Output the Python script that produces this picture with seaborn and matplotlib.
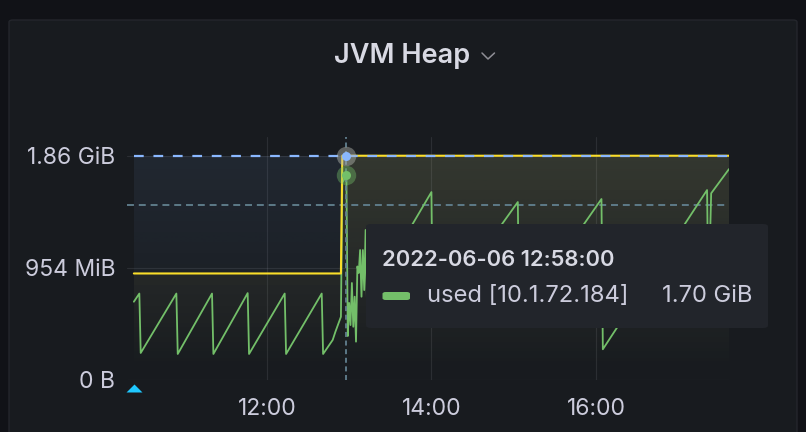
import numpy as np
import pandas as pd
import seaborn as sns
import matplotlib.pyplot as plt
import matplotlib.colors as mcolors
from matplotlib.patches import FancyBboxPatch
from matplotlib.lines import Line2D

# heap values in MB (1e6 bytes), time of day as HH:MM
used_times = ["10:23", "10:27", "10:28", "10:54", "10:55", "11:20", "11:21", "11:46", "11:47",
              "12:13", "12:14", "12:40", "12:41", "12:48", "12:50", "12:54", "12:55", "12:58",
              "12:59", "13:00", "13:01", "13:02", "13:03", "13:04", "13:05", "13:06", "13:07",
              "13:08", "13:09", "13:10", "13:11", "13:12", "13:13", "14:00", "14:01", "15:03",
              "15:04", "16:04", "16:05", "17:21", "17:22", "17:24", "17:37"]
used_mb = [698, 771, 241, 771, 232, 771, 232, 775, 232,
           771, 232, 771, 232, 357, 431, 564, 1760, 1825,
           392, 687, 490, 865, 475, 743, 342, 1013, 954,
           1159, 743, 1159, 802, 1338, 700, 1676, 530, 1587,
           562, 1614, 274, 1694, 700, 1665, 1881]

committed_times = ["10:23", "12:54", "12:55", "17:37"]
committed_mb = [950, 950, 2000, 2000]

max_times = ["10:23", "17:37"]
max_mb = [2000, 2000]

threshold_mb = 1565
hover_time = "12:58"
hover_title = "2022-06-06 12:58:00"
hover_series = "used [10.1.72.184]"
hover_value = "1.70 GiB"
annotation_time = "10:23"

x_ticks = ["12:00", "14:00", "16:00"]
x_range = ["10:18", "17:37"]
y_ticks_mb = [0, 1000, 2000]
y_tick_labels = ["0 B", "954 MiB", "1.86 GiB"]
y_top_mb = 2167

GREEN = "#73bf69"
YELLOW = "#fade2a"
BLUE = "#8ab8ff"
DASH = "#62808f"
TEXT = "#ccccdc"
PANEL = "#181b1f"
PAGE = "#111217"

W, H = 806, 432


def hours(t):
    t = pd.Series(t)
    return (pd.to_timedelta(t + ":00") / pd.Timedelta(hours=1)).to_numpy()


def fx(x):
    return x / W


def fy(y):
    return 1 - y / H


def gradient_fill(ax, x, y, color, alpha_top, z):
    poly = ax.fill_between(x, 0, y, color="none", lw=0)
    path = poly.get_paths()[0]
    rgba = np.zeros((256, 1, 4))
    rgba[..., :3] = mcolors.to_rgb(color)
    rgba[..., 3] = np.linspace(0, alpha_top, 256)[:, None]
    im = ax.imshow(rgba, extent=[x.min(), x.max(), 0, y_top_mb], origin="lower",
                   aspect="auto", zorder=z, interpolation="bilinear")
    im.set_clip_path(path, transform=ax.transData)


sns.set_theme(style="dark")
plt.rcParams["font.family"] = ["Inter", "DejaVu Sans"]
plt.rcParams["lines.scale_dashes"] = False

used = pd.DataFrame({"t": hours(used_times), "mb": used_mb})
committed = pd.DataFrame({"t": hours(committed_times), "mb": committed_mb})
heap_max = pd.DataFrame({"t": hours(max_times), "mb": max_mb})

fig = plt.figure(figsize=(W / 100, H / 100), dpi=100, facecolor=PAGE)
fig.add_artist(FancyBboxPatch((fx(9), fy(440)), fx(788), 420 / H,
                              boxstyle="round,pad=0,rounding_size=0.005",
                              transform=fig.transFigure, facecolor=PANEL,
                              edgecolor="#24262c", lw=1, zorder=-10))

ax = fig.add_axes([fx(127), fy(380), fx(729 - 127), (380 - 137) / H])
ax.set_zorder(1)
ax.set_facecolor("none")

gradient_fill(ax, heap_max["t"].to_numpy(), heap_max["mb"].to_numpy(), BLUE, 0.09, 1)
gradient_fill(ax, committed["t"].to_numpy(), committed["mb"].to_numpy(), YELLOW, 0.10, 2)

ax.axhline(threshold_mb, color=DASH, lw=1.3, dashes=(5, 3.5), zorder=3)

sns.lineplot(data=used, x="t", y="mb", ax=ax, color=GREEN, lw=1.3,
             estimator=None, sort=False, zorder=4)
sns.lineplot(data=committed, x="t", y="mb", ax=ax, color=YELLOW, lw=1.5,
             estimator=None, sort=False, zorder=5)
sns.lineplot(data=heap_max, x="t", y="mb", ax=ax, color=BLUE, lw=1.6,
             estimator=None, sort=False, zorder=6)
ax.lines[-1].set_dashes((7, 7))

h = hours([hover_time])[0]
ax.axvline(h, color=DASH, lw=1.3, dashes=(3.6, 2.6), zorder=7)
hover_used = used.loc[used["t"] == h, "mb"].iloc[0]
ax.plot([h], [max_mb[0]], "o", ms=14, color="#b5b8b0", alpha=0.45, mec="none", zorder=8)
ax.plot([h], [max_mb[0]], "o", ms=6.5, color=BLUE, mec="none", zorder=9)
ax.plot([h], [hover_used], "o", ms=14, color=GREEN, alpha=0.4, mec="none", zorder=8)
ax.plot([h], [hover_used], "o", ms=6.5, color=GREEN, mec="none", zorder=9)

# annotation marker under the axis
ax.plot([hours([annotation_time])[0]], [-0.033], marker=[(-1, -0.5), (1, -0.5), (0, 0.5)],
        ms=11.5, color="#1fc8ff", mec="none", clip_on=False,
        transform=ax.get_xaxis_transform(), zorder=10)

ax.set_xlim(hours(x_range))
ax.set_ylim(0, y_top_mb)
ax.set_xticks(hours(x_ticks), x_ticks)
ax.set_yticks(y_ticks_mb, y_tick_labels)
ax.set_xlabel("")
ax.set_ylabel("")
for s in ax.spines.values():
    s.set_visible(False)
ax.set_axisbelow(True)
ax.grid(True)
ax.tick_params(axis="both", length=0, labelcolor=TEXT, labelsize=16.5,
               grid_color="#ccccdc", grid_alpha=0.11, grid_linewidth=0.8)
ax.tick_params(axis="y", pad=8.5)
ax.tick_params(axis="x", pad=13)

# title with chevron
fig.text(fx(402.5), fy(62.7), "JVM Heap", ha="center", va="baseline", color="#d8d9e3",
         fontsize=19.5, fontweight="semibold")
fig.add_artist(Line2D([fx(482), fx(488), fx(494.5)], [fy(53), fy(59), fy(53)],
                      transform=fig.transFigure, color="#8e8e95", lw=1.1))

# hover tooltip
fig.add_artist(FancyBboxPatch((fx(366), fy(328)), fx(402), 104 / H,
                              boxstyle="round,pad=0,rounding_size=0.006",
                              transform=fig.transFigure, facecolor="#22252b",
                              edgecolor="none", zorder=20))
fig.add_artist(FancyBboxPatch((fx(382.5), fy(300)), fx(27.5), 8 / H,
                              boxstyle="round,pad=0,rounding_size=0.004",
                              transform=fig.transFigure, facecolor=GREEN,
                              edgecolor="none", zorder=21))
fig.text(fx(382.5), fy(265.7), hover_title, ha="left", va="baseline", color="#d8d9e3",
         fontsize=15.8, fontweight="semibold", zorder=22)
fig.text(fx(426.7), fy(301.7), hover_series, ha="left", va="baseline", color=TEXT,
         fontsize=17.1, zorder=22)
fig.text(fx(752), fy(301.7), hover_value, ha="right", va="baseline", color=TEXT,
         fontsize=17.1, zorder=22)

fig.savefig("out.png", dpi=100, facecolor=PAGE)
